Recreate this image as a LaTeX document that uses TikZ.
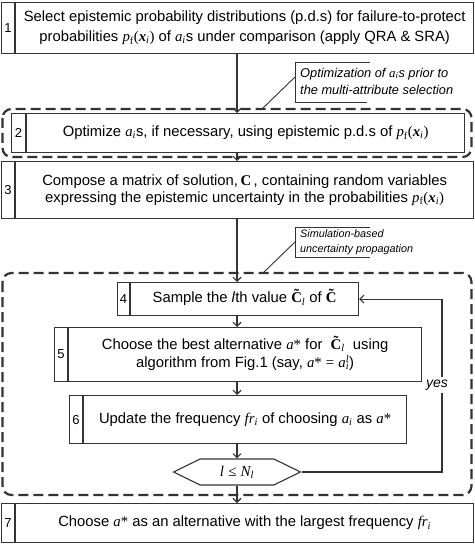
\documentclass[tikz,border=0pt]{standalone}
\usepackage{fontspec}
\setmainfont{Liberation Sans}
\newfontfamily\tms{Liberation Serif}
\usetikzlibrary{arrows.meta,shapes.symbols}
\definecolor{lc}{HTML}{333333}
\newcommand\vv[1]{{\tms\itshape #1}}
\newcommand\pfx{\vv{p}\textsubscript{\tms f}{\tms(}{\tms\bfseries\itshape x}\textsubscript{\vv{i}}{\tms)}}
\newcommand\ai{\vv{a}\textsubscript{\vv{i}}}
\newcommand\Cb{{\tms\bfseries C}}
\newcommand\Ct{\hbox{\ooalign{\Cb\cr\hidewidth\raisebox{0.2em}{\tms\bfseries\char"02DC}\hidewidth\cr}}}
\newcommand\astar{\vv{a}{\tms *}}
\newcommand\supsub[2]{\rlap{\textsuperscript{#1}}\textsubscript{#2}}
\begin{document}
\begin{tikzpicture}[x=1pt,y=-1pt,
  ln/.style={draw=lc, line width=1.1pt},
  numbox/.style={ln, inner sep=0pt, anchor=north west, font=\fontsize{13}{15}\selectfont},
  txtbox/.style={ln, inner sep=0pt, anchor=north west, align=center, font=\fontsize{14.8}{19}\selectfont},
  arr/.style={draw=lc, line width=1.1pt, -{Straight Barb[length=4pt,width=8pt]}},
  dashbox/.style={draw=lc, line width=2.2pt, dash pattern=on 10pt off 5pt, rounded corners=9pt},
  note/.style={inner sep=0pt, align=left, anchor=west},
  bracket/.style={draw=lc, line width=0.9pt}]
\useasboundingbox (0,0) rectangle (474,545);
\coordinate (ax) at (237,0);

% box 1
\node[numbox, minimum width=13, minimum height=51] (n1) at (1,2) {1};
\node[txtbox, minimum width=458, minimum height=51, font=\fontsize{14.8}{20}\selectfont] (b1) at (n1.north east)
  {Select epistemic probability distributions (p.d.s) for failure-to-protect\\probabilities \pfx{} of \ai{}s under comparison (apply QRA \& SRA)};

% annotation 1
\node[note, font=\itshape\fontsize{12.8}{17}\selectfont] (an1) at (300,81)
  {Optimization of \ai{}s prior to\\the multi-attribute selection};
\coordinate (a1t) at (295,62);
\coordinate (a1b) at (295,102);
\draw[bracket] (a1t -| 370,0) -- (a1t) -- (a1b) -- (a1b -| 367,0);
\coordinate (a1l) at (295,77);
\coordinate (a1e) at (262,109);
\draw[bracket] (a1l) -- (a1e);

% box 2 with dashed frame
\draw[dashbox] (2.5,109) rectangle (471.5,157);
\node[numbox, minimum width=14, minimum height=39] (n2) at (11,113) {2};
\node[txtbox, minimum width=438, minimum height=39] (b2) at (n2.north east)
  {Optimize \ai{}s, if necessary, using epistemic p.d.s of \pfx};

% box 3
\node[numbox, minimum width=13, minimum height=57] (n3) at (1,161) {3};
\node[txtbox, minimum width=458, minimum height=57, font=\fontsize{14.8}{17}\selectfont] (b3) at (n3.north east)
  {Compose a matrix of solution,\,\Cb\,, containing random variables\\expressing the epistemic uncertainty in the probabilities \pfx};

% annotation 2
\node[note, font=\itshape\fontsize{10.8}{15}\selectfont] (an2) at (300,242.5)
  {Simulation-based\\uncertainty propagation};
\coordinate (a2t) at (295,227);
\coordinate (a2b) at (295,257);
\draw[bracket] (a2t -| 370,0) -- (a2t) -- (a2b) -- (a2b -| 370,0);
\coordinate (a2l) at (295,242);
\coordinate (a2e) at (263,273);
\draw[bracket] (a2l) -- (a2e);

% dashed frame of the loop
\draw[dashbox] (2.5,273) rectangle (471.5,495);

% box 4
\node[numbox, minimum width=12, minimum height=33] (n4) at (117,282) {4};
\node[txtbox, minimum width=228, minimum height=33] (b4) at (n4.north east)
  {Sample the \textit{l}th value \Ct\textsubscript{\vv{l}} of \Ct};

% box 5
\node[numbox, minimum width=13, minimum height=54] (n5) at (54,327) {5};
\node[txtbox, minimum width=353, minimum height=54, font=\fontsize{14.8}{18}\selectfont] (b5) at (n5.north east)
  {Choose the best alternative \astar{} for \ \Ct\textsubscript{\vv{l}} \ using\\algorithm from Fig.1 (say, \astar{} {\tms=} \vv{a}\supsub{\vv{l}}{\vv{i}})};

% box 6
\node[numbox, minimum width=13, minimum height=48] (n6) at (69,395) {6};
\node[txtbox, minimum width=323, minimum height=48] (b6) at (n6.north east)
  {Update the frequency \vv{fr}\textsubscript{\vv{i}} of choosing \ai{} as \astar};

% decision
\node[signal, signal to=west and east, signal pointer angle=52, ln, minimum width=127, minimum height=26, inner sep=0pt,
  font=\fontsize{15}{17}\selectfont] (hex) at (237,472) {\vv{l} {\tms ≤} \vv{N}\textsubscript{\vv{l}}};

% box 7
\node[numbox, minimum width=13, minimum height=39] (n7) at (1,503) {7};
\node[txtbox, minimum width=458, minimum height=39] (b7) at (n7.north east)
  {Choose \astar{} as an alternative with the largest frequency \vv{fr}\textsubscript{\vv{i}}};

% connectors
\draw[arr] (b1.south -| ax) -- (b2.north -| ax);
\draw[arr] (b2.south -| ax) -- (b3.north -| ax);
\draw[arr] (b3.south -| ax) -- (b4.north -| ax);
\draw[arr] (b4.south -| ax) -- (b5.north -| ax);
\draw[arr] (b5.south -| ax) -- (b6.north -| ax);
\draw[arr] (b6.south -| ax) -- (hex.north);
\draw[arr] (hex.south) -- (b7.north -| ax);
\coordinate (lp) at (442,385);
\draw[arr] (hex.east) -| (lp) |- (b4.east);
\node[fill=white, inner xsep=1pt, inner ysep=3pt, font=\itshape\fontsize{14}{16}\selectfont] (yes) at (437,385) {yes};
\end{tikzpicture}
\end{document}
